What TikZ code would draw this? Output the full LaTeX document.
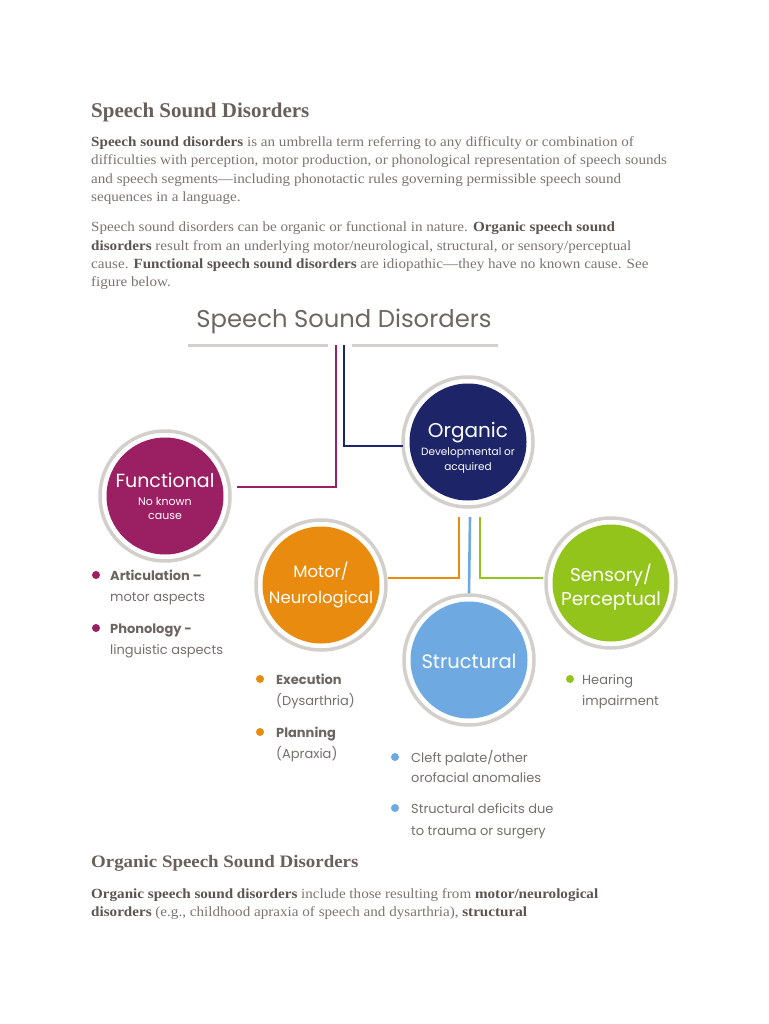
\documentclass[tikz,border=0pt]{standalone}
\usepackage{fontspec}
\setmainfont{Liberation Serif}
\newfontfamily\bodyfont{Liberation Serif}[FakeStretch=1.08]
\newfontfamily\geo{Poppins}
\definecolor{bodygray}{HTML}{7D7470}
\definecolor{boldgray}{HTML}{5C5450}
\definecolor{headgray}{HTML}{6A605B}
\definecolor{ringgray}{HTML}{D3CFCB}
\definecolor{titlegray}{HTML}{6E6661}
\definecolor{bulgray}{HTML}{75706C}
\definecolor{magenta}{HTML}{9B1F63}
\definecolor{navy}{HTML}{1D2468}
\definecolor{orangeC}{HTML}{E98B0E}
\definecolor{blueC}{HTML}{6FA9E1}
\definecolor{greenC}{HTML}{92C41C}
\newcommand{\bb}[1]{{\bfseries\color{boldgray}#1}}
\begin{document}
\begin{tikzpicture}[x=1pt,y=-1pt,
  body/.style={anchor=base west, inner sep=0pt, text=bodygray, font=\bodyfont\fontsize{14}{16}\selectfont},
  head/.style={anchor=base west, inner sep=0pt, text=headgray, font=\fontsize{21}{24}\selectfont\bfseries},
  head2/.style={anchor=base west, inner sep=0pt, text=headgray, font=\bodyfont\fontsize{17.5}{20}\selectfont\bfseries},
  bubble/.style={circle, inner sep=0pt, draw=ringgray, line width=3.5pt, minimum size=130pt,
     path picture={\fill[#1] (path picture bounding box.center) circle (58.5pt);}},
  ctext/.style={text=white, align=center, inner sep=0pt},
  conn/.style={line width=2.6pt},
  bul/.style={anchor=base west, inner sep=0pt, text=bulgray, font=\geo\fontsize{13}{15}\selectfont},
  dot/.style={circle, inner sep=0pt, minimum size=8pt, fill=#1}
]
\useasboundingbox[fill=white] (0,0) rectangle (768,1024);

% ---------- top text ----------
\node[head] (h1) at (91,118) {Speech Sound Disorders};
\node[body] (p1a) at (91,147) {\bb{Speech sound disorders} is an umbrella term referring to any difficulty or combination of};
\node[body] (p1b) at (91,165) {difficulties with perception, motor production, or phonological representation of speech sounds};
\node[body] (p1c) at (91,184) {and speech segments—including phonotactic rules governing permissible speech sound};
\node[body] (p1d) at (91,202) {sequences in a language.};
\node[body] (p2a) at (91,232) {Speech sound disorders can be organic or functional in nature. \bb{Organic speech sound}};
\node[body] (p2b) at (91,250) {\bb{disorders} result from an underlying motor/neurological, structural, or sensory/perceptual};
\node[body] (p2c) at (91,268) {cause. \bb{Functional speech sound disorders} are idiopathic—they have no known cause. See};
\node[body] (p2d) at (91,286) {figure below.};

% ---------- diagram title ----------
\node[text=titlegray, font=\geo\fontsize{24.3}{28}\selectfont, inner sep=0pt] (title) at (344,321) {Speech Sound Disorders};
\coordinate (gl1) at (188,345); \coordinate (gl2) at (328,345);
\coordinate (gl3) at (352,345); \coordinate (gl4) at (498,345);
\draw[ringgray, line width=3pt] (gl1) -- (gl2) (gl3) -- (gl4);

% ---------- circles ----------
\node[bubble=magenta] (func) at (165,496) {};
\node[bubble=navy]    (org)  at (468,442) {};
\node[bubble=orangeC] (mot)  at (321,585) {};
\node[bubble=blueC]   (str)  at (469,660) {};
\node[bubble=greenC]  (sen)  at (611,583) {};

\node[ctext, font=\geo\fontsize{19}{22}\selectfont] (funcT) at (165,480) {Functional};
\node[ctext, font=\geo\fontsize{11}{14}\selectfont] (funcS) at (165,508) {No known\\cause};
\node[ctext, font=\geo\fontsize{20}{22}\selectfont] (orgT) at (468,433) {Organic};
\node[ctext, font=\geo\fontsize{10.5}{15}\selectfont] (orgS) at (468,460) {Developmental or\\acquired};
\node[ctext, font=\geo\fontsize{16.5}{26}\selectfont] (motT) at (321,585) {Motor/\\Neurological};
\node[ctext, font=\geo\fontsize{19.5}{22}\selectfont] (strT) at (469,661) {Structural};
\node[ctext, font=\geo\fontsize{18.5}{24}\selectfont] (senT) at (611,587) {Sensory/\\Perceptual};

% ---------- connectors ----------
\coordinate (mtop) at (336,345);
\coordinate (ntop) at (344,345);
\draw[conn, magenta] (mtop) -- (336,487) -- (237,487);
\draw[conn, navy] (ntop) -- (344,446) -- (403,446);
\draw[conn, orangeC] (459,517) -- (459,578) -- (388,578);
\draw[conn, blueC] (470,517) -- (str.north);
\draw[conn, greenC] (480,517) -- (480,578) -- (543,578);

% ---------- bullets ----------
\node[dot=magenta] (d1) at (96,575) {};
\node[bul] (b1a) at (110,580) {\bfseries\color{boldgray!90}Articulation –};
\node[bul] (b1b) at (110,601) {motor aspects};
\node[dot=magenta] (d2) at (96,628) {};
\node[bul] (b2a) at (110,633) {\bfseries\color{boldgray!90}Phonology -};
\node[bul] (b2b) at (110,654) {linguistic aspects};

\node[dot=orangeC] (d3) at (260,679) {};
\node[bul] (b3a) at (276,684) {\bfseries\color{boldgray!90}Execution};
\node[bul] (b3b) at (276,705) {(Dysarthria)};
\node[dot=orangeC] (d4) at (260,732) {};
\node[bul] (b4a) at (276,737) {\bfseries\color{boldgray!90}Planning};
\node[bul] (b4b) at (276,758) {(Apraxia)};

\node[dot=blueC] (d5) at (395,757) {};
\node[bul] (b5a) at (411,762) {Cleft palate/other};
\node[bul] (b5b) at (411,782) {orofacial anomalies};
\node[dot=blueC] (d6) at (395,808) {};
\node[bul] (b6a) at (411,813) {Structural deficits due};
\node[bul] (b6b) at (411,835) {to trauma or surgery};

\node[dot=greenC] (d7) at (570,679) {};
\node[bul] (b7a) at (582,684) {Hearing};
\node[bul] (b7b) at (582,705) {impairment};

% ---------- bottom text ----------
\node[head2] (h2) at (91,867) {Organic Speech Sound Disorders};
\node[body] (q1) at (91,898) {\bb{Organic speech sound disorders} include those resulting from \bb{motor/neurological}};
\node[body] (q2) at (91,916) {\bb{disorders} (e.g., childhood apraxia of speech and dysarthria), \bb{structural}};
\end{tikzpicture}
\end{document}
